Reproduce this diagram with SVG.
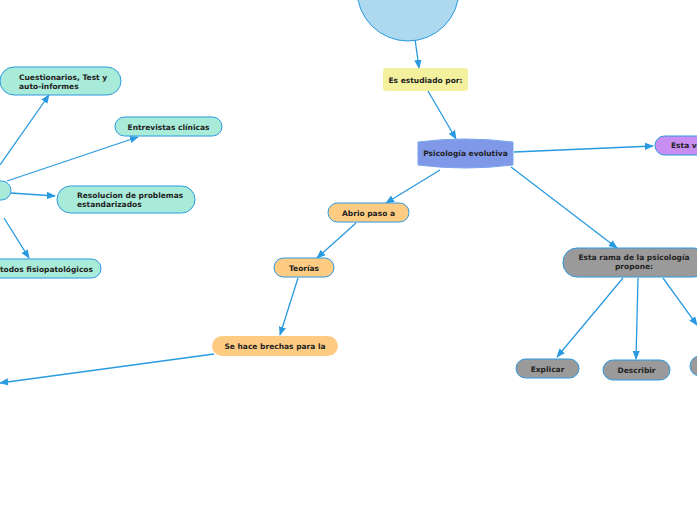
<svg xmlns="http://www.w3.org/2000/svg" width="697" height="520" viewBox="0 0 697 520">
<defs>
<marker id="a" viewBox="0 0 10 10" refX="9" refY="5" markerWidth="7" markerHeight="7" orient="auto"><path d="M0,1 L10,5 L0,9 z" fill="#2a9ae0"/></marker>
<style>
.l{stroke:#2a9ae0;stroke-width:1.3;fill:none;marker-end:url(#a)}
.n{stroke:#2a9ae0;stroke-width:1}
text{font-family:"DejaVu Sans",sans-serif;font-size:7.5px;font-weight:bold;fill:#222}
.g{fill:#a9ebd9}.o{fill:#fecb82}.gr{fill:#9b9a9b}
</style>
</defs>
<rect width="697" height="520" fill="#fff"/>
<g id="connectors">
<path class="l" d="M415,39 L419,68"/>
<path class="l" d="M428,91 L456,139"/>
<path class="l" d="M514,152 L653,146"/>
<path class="l" d="M440,170 L386,203"/>
<path class="l" d="M511,167 L617,248"/>
<path class="l" d="M356,223 L317,258"/>
<path class="l" d="M298,278 L280,335"/>
<path class="l" d="M214,354 L0,383"/>
<path class="l" d="M623,278 L557,357"/>
<path class="l" d="M638,278 L636,359"/>
<path class="l" d="M663,278 L697,325"/>
<path class="l" d="M0,165 L49,95"/>
<path class="l" d="M7,181 L138,137"/>
<path class="l" d="M11,193 L55,196"/>
<path class="l" d="M4,218 L29,258"/>
</g>
<g id="top"><circle cx="408" cy="-10" r="51" fill="#acd8f0" class="n"/></g>
<g id="estudiado"><rect x="383" y="68" width="85" height="23" rx="3" fill="#f4f19e"/><text x="425.5" y="82.5" text-anchor="middle">Es estudiado por:</text></g>
<g id="psico"><path d="M418,142 Q465,136 513,142 L513,165 Q465,171 418,165 z" fill="#8098e8" stroke="#7aa6ec"/><text x="465.5" y="156" text-anchor="middle">Psicología evolutiva</text></g>
<g id="estave"><rect x="655" y="136" width="60" height="19" rx="9.5" fill="#c98ef2" class="n"/><text x="671" y="148">Esta ve</text></g>
<g id="abrio"><rect x="328" y="203" width="81" height="19" rx="9.5" class="o n"/><text x="368.5" y="215.5" text-anchor="middle">Abrio paso a</text></g>
<g id="teorias"><rect x="274" y="258" width="60" height="19" rx="9.5" class="o n"/><text x="304" y="270.5" text-anchor="middle">Teorías</text></g>
<g id="brechas"><rect x="212" y="336" width="126" height="20" rx="10" class="o"/><text x="275" y="349" text-anchor="middle">Se hace brechas para la</text></g>
<g id="rama"><rect x="563" y="248" width="145" height="29" rx="14" class="gr n"/><text x="634" y="260" text-anchor="middle">Esta rama de la psicología</text><text x="634" y="269" text-anchor="middle">propone:</text></g>
<g id="explicar"><rect x="516" y="359" width="63" height="19" rx="9.5" class="gr n"/><text x="547.5" y="371.5" text-anchor="middle">Explicar</text></g>
<g id="describir"><rect x="603" y="360" width="67" height="20" rx="10" class="gr n"/><text x="636.5" y="373" text-anchor="middle">Describir</text></g>
<g id="third"><rect x="690" y="356" width="30" height="20" rx="10" class="gr n"/></g>
<g id="center"><rect x="-20" y="181" width="31" height="19" rx="9.5" class="g n"/></g>
<g id="cuest"><rect x="0" y="67" width="121" height="28" rx="14" class="g n"/><text x="19" y="80">Cuestionarios, Test y</text><text x="19" y="88.5">auto-informes</text></g>
<g id="entrev"><rect x="115" y="117" width="107" height="19" rx="9.5" class="g n"/><text x="168.5" y="129.5" text-anchor="middle">Entrevistas clínicas</text></g>
<g id="resol"><rect x="57" y="186" width="138" height="27" rx="13.5" class="g n"/><text x="77" y="198">Resolucion de problemas</text><text x="77" y="207">estandarizados</text></g>
<g id="metodos"><rect x="-20" y="259" width="121" height="19" rx="9.5" class="g n"/><text x="0" y="271.5">todos fisiopatológicos</text></g>
</svg>
